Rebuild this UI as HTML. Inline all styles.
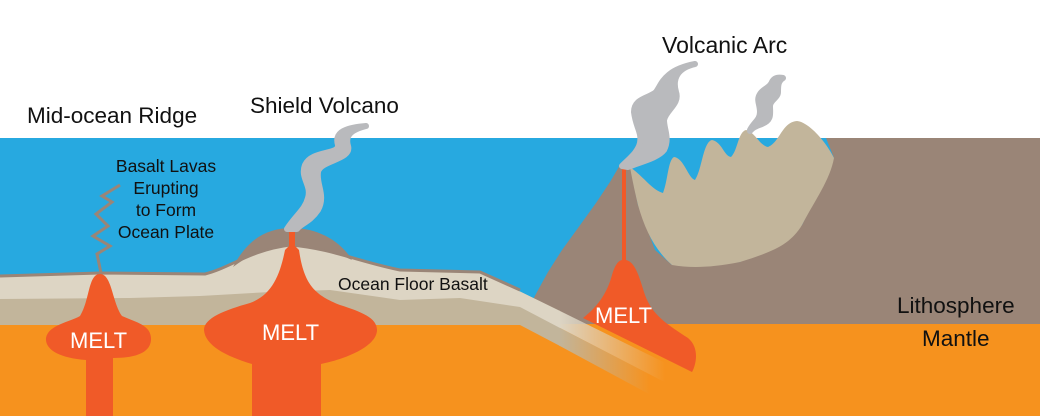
<!DOCTYPE html>
<html><head><meta charset="utf-8"><style>
html,body{margin:0;padding:0;background:#fff;}
svg{display:block;}
text{font-family:"Liberation Sans",sans-serif;}
</style></head><body>
<svg width="1040" height="416" viewBox="0 0 1040 416" xmlns="http://www.w3.org/2000/svg">
<defs>
<linearGradient id="slabfade" x1="559" y1="0" x2="665" y2="0" gradientUnits="userSpaceOnUse">
<stop offset="0" stop-color="#ddd5c4" stop-opacity="1"/>
<stop offset="1" stop-color="#ddd5c4" stop-opacity="0"/>
</linearGradient>
<linearGradient id="slabfade2" x1="559" y1="0" x2="650" y2="0" gradientUnits="userSpaceOnUse">
<stop offset="0" stop-color="#c2b59b" stop-opacity="1"/>
<stop offset="1" stop-color="#c2b59b" stop-opacity="0"/>
</linearGradient>
</defs>
<rect x="0" y="0" width="1040" height="416" fill="#fff"/>
<rect x="0" y="138" width="1040" height="190" fill="#27a9e0"/>
<rect x="0" y="323" width="1040" height="93" fill="#f6921e"/>
<!-- brown lithosphere / arc -->
<path d="M537,292 L548,272 L562,250 L578,228 L596,203 L610,182 L620,165 L630,167 L638,205 L655,250 L672,265 L740,262 L802,225 L834,158 L826,138 L1040,138 L1040,324 L520,324 Z" fill="#9a8577"/>
<!-- tan arc block -->
<path d="M630,167 C645,178 652,190 663,193 C668,180 668,160 674,157 C684,158 688,178 695,180 C702,170 703,142 712,140 C722,142 724,156 731,157 C738,150 738,132 746,130 C755,132 760,146 768,147 C780,142 782,122 797,121 C808,122 825,140 834,158 C830,180 815,200 802,225 C790,245 772,252 740,262 C710,268 690,268 672,265 C655,250 645,230 638,205 C634,188 632,178 630,167 Z" fill="#c2b59b"/>
<!-- crust dark -->
<path d="M0,276 L100,273 L205,274 C230,268 250,250 290,245 C330,248 360,262 400,270 L480,272 L560,311 L560,346 L520,325 L0,325 Z" fill="#c2b59b"/>
<!-- crust light -->
<path d="M0,276 L100,273 L205,274 C230,268 250,250 290,245 C330,248 360,262 400,270 L480,272 L560,311 L560,328 L520,307 L460,298 L400,300 L330,290 L270,292 L200,296 L130,298 L0,299 Z" fill="#ddd5c4"/>
<!-- slab fading -->
<path d="M559,310.5 L700,380 L680,390 L559,327.5 Z" fill="url(#slabfade)"/>
<path d="M559,327.5 L680,390 L660,400 L559,345.5 Z" fill="url(#slabfade2)"/>
<path d="M0,276 L100,273 L205,274 C230,268 250,250 290,245 C330,248 360,262 400,270 L480,272 L520,290" fill="none" stroke="#9a8577" stroke-width="3"/>
<!-- shield dome -->
<path d="M233,267 C248,238 268,228 292,228 C320,228 342,243 352,260 C330,250 310,245 290,245 C265,246 248,256 233,267 Z" fill="#9a8577"/>
<!-- zigzag -->
<path d="M101,273 L97,254 L110,246 L93,236 L108,226 L96,214 L112,202 L102,196 L120,185" fill="none" stroke="#9a8577" stroke-width="3"/>
<!-- left melt -->
<path d="M86,416 L86,360 C60,358 45,350 46,338 C48,325 70,322 80,316 C90,300 88,274 100,274 C112,274 112,302 122,316 C135,322 152,325 151,340 C150,355 130,358 113,358 L113,416 Z" fill="#f05a28"/>
<!-- center melt -->
<path d="M252,416 L252,364 C225,356 205,345 204,330 C204,318 225,310 250,303 C272,295 280,275 285,250 L289,246 L289,229 L295,229 L295,246 L299,250 C304,285 315,295 340,305 C362,312 377,318 377,330 C377,345 350,358 321,364 L321,416 Z" fill="#f05a28"/>
<!-- right melt -->
<path d="M622,165 L626,165 L626,260 C636,262 640,280 645,295 C652,315 668,325 688,338 C700,348 696,365 692,372 L583,318 C600,305 608,290 612,275 C615,265 618,261 622,260 Z" fill="#f05a28"/>
<!-- smoke -->
<g fill="#b9babd" stroke="#b9babd" stroke-width="6" stroke-linejoin="round">
<path d="M287,229 C296,215 305,210 308,198 C312,185 300,178 305,165 C312,150 340,155 338,145 C335,135 340,128 366,126 C350,130 345,136 348,146 C352,160 320,160 318,172 C316,185 326,195 318,210 C310,222 300,224 297,229 Z"/>
<path d="M622,166 C630,158 638,152 640,143 C642,132 636,128 634,112 C634,98 650,98 656,92 C662,84 664,70 695,64 C678,68 672,78 676,92 C680,104 666,110 664,120 C664,130 670,138 664,150 C658,158 640,162 628,167 Z"/>
<path d="M750,130 C754,122 760,120 760,112 C760,104 756,100 760,94 C764,88 770,88 772,82 C774,78 778,77 783,78 C778,81 778,86 778,92 C778,98 770,100 770,106 C770,114 772,120 762,124 C756,126 752,128 750,131 Z"/>
</g>
<!-- text -->
<g fill="#111">
<text x="27" y="123" font-size="22.5">Mid-ocean Ridge</text>
<text x="250" y="113" font-size="22.5">Shield Volcano</text>
<text x="662" y="53" font-size="23">Volcanic Arc</text>
<text x="166" y="172" font-size="17.5" text-anchor="middle">Basalt Lavas</text>
<text x="166" y="194" font-size="17.5" text-anchor="middle">Erupting</text>
<text x="166" y="216" font-size="17.5" text-anchor="middle">to Form</text>
<text x="166" y="238" font-size="17.5" text-anchor="middle">Ocean Plate</text>
<text x="338" y="290" font-size="17.5">Ocean Floor Basalt</text>
<text x="897" y="313" font-size="22.5">Lithosphere</text>
<text x="922" y="346" font-size="22.5">Mantle</text>
</g>
<g fill="#fff" font-size="22">
<text x="70" y="348">MELT</text>
<text x="262" y="340">MELT</text>
<text x="595" y="323">MELT</text>
</g>
</svg>
</body></html>
